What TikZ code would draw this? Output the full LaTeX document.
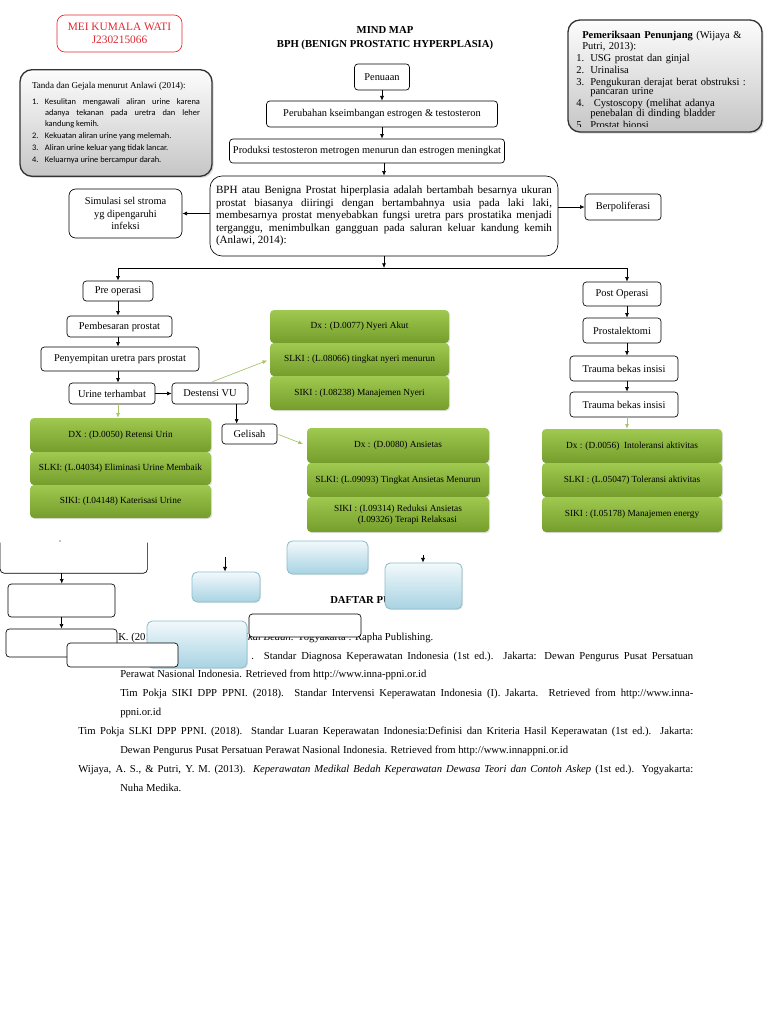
\documentclass[tikz,border=0pt]{standalone}
\usepackage{fontspec}
\setmainfont{Liberation Serif}
\setsansfont{Carlito}
\usetikzlibrary{arrows.meta,shadows}

\definecolor{merah}{RGB}{226,40,50}
\definecolor{hijauatas}{RGB}{160,201,80}
\definecolor{hijaubawah}{RGB}{116,157,44}
\definecolor{hijaupanah}{RGB}{163,196,105}
\definecolor{biruatas}{RGB}{242,249,252}
\definecolor{birubawah}{RGB}{168,211,226}
\definecolor{birugaris}{RGB}{140,188,204}

\tikzstyle{kotak} = [draw, rounded corners=2.5pt, fill=white, line width=0.5pt, inner sep=1pt, align=center]
\tikzstyle{abu} = [draw=black!80, line width=1pt, rounded corners=9pt, top color=gray!2, bottom color=gray!45, drop shadow={shadow xshift=1.2pt, shadow yshift=-1.2pt, opacity=0.3}]
\tikzstyle{hijau} = [rounded corners=3pt, top color=hijauatas, bottom color=hijaubawah, drop shadow={shadow xshift=0.8pt, shadow yshift=-0.8pt, opacity=0.25}, inner sep=1pt, align=center, font=\fontsize{7}{8}\selectfont]
\tikzstyle{biru} = [draw=birugaris, line width=0.6pt, rounded corners=4pt, top color=biruatas, bottom color=birubawah, drop shadow={shadow xshift=0.8pt, shadow yshift=-0.8pt, opacity=0.2}]
\tikzstyle{arrow} = [-{Latex[length=3.5pt,width=3pt]}, line width=0.5pt]
\tikzstyle{arrowg} = [arrow, color=hijaupanah]
\tikzstyle{pustaka} = [anchor=base west, inner sep=0pt, font=\fontsize{8}{9.4}\selectfont]

\begin{document}
\begin{tikzpicture}[x=0.75pt, y=-0.75pt, every node/.style={font=\fontsize{7.8}{9.4}\selectfont}]
  \useasboundingbox (0,0) rectangle (768,1024);

  \node[kotak, draw=merah, text=merah, rounded corners=6pt, minimum width=93.75pt, minimum height=27.75pt, font=\fontsize{8.5}{9.75}\selectfont] (nama) at (119.5,33.5) {MEI KUMALA WATI\\J230215066};
  \node[align=center, font=\bfseries\fontsize{8}{10.5}\selectfont] (judul) at (385,38) {MIND MAP\\BPH (BENIGN PROSTATIC HYPERPLASIA)};

  \node[abu, minimum width=144pt, minimum height=79.5pt, text width=126pt, inner sep=9pt, align=justify] (gejala) at (116,123) {%
    {\fontsize{6.8}{8}\selectfont Tanda dan Gejala menurut Anlawi (2014):\par}
    \vspace{4pt}
    \sffamily\fontsize{6.3}{8.2}\selectfont
    \hangindent=9.75pt\hangafter=1\noindent\makebox[9.75pt][l]{1.}Kesulitan mengawali aliran urine karena adanya tekanan pada uretra dan leher kandung kemih.\par
    \vspace{1pt}
    \hangindent=9.75pt\hangafter=1\noindent\makebox[9.75pt][l]{2.}Kekuatan aliran urine yang melemah.\par
    \vspace{1pt}
    \hangindent=9.75pt\hangafter=1\noindent\makebox[9.75pt][l]{3.}Aliran urine keluar yang tidak lancar.\par
    \vspace{1pt}
    \hangindent=9.75pt\hangafter=1\noindent\makebox[9.75pt][l]{4.}Keluarnya urine bercampur darah.\par};

  \node[abu, minimum width=145.5pt, minimum height=84pt] (penunjang) at (665,76) {};
  \begin{scope}
    \clip (568,20) rectangle (762,126);
    \node[anchor=north west, inner sep=0pt, text width=134pt, align=left, font=\fontsize{7.9}{7}\selectfont] (penunjangisi) at (576,31) {%
      \lineskiplimit=-5pt\relax
      \hspace*{4.5pt}\textbf{Pemeriksaan Penunjang} (Wijaya \&\\[1.2pt]
      \hspace*{4.5pt}Putri, 2013):\par
      \vspace{2pt}
      \hangindent=10.5pt\hangafter=1\noindent\makebox[10.5pt][l]{1.}USG prostat dan ginjal\par
      \vspace{2pt}
      \hangindent=10.5pt\hangafter=1\noindent\makebox[10.5pt][l]{2.}Urinalisa\par
      \vspace{2pt}
      \hangindent=10.5pt\hangafter=1\noindent\makebox[10.5pt][l]{3.}Pengukuran derajat berat obstruksi :\newline pancaran urine\par
      \vspace{2pt}
      \hangindent=10.5pt\hangafter=1\noindent\makebox[10.5pt][l]{4.}\ Cystoscopy (melihat adanya\newline penebalan di dinding bladder\par
      \vspace{2.6pt}
      \hangindent=10.5pt\hangafter=1\noindent\makebox[10.5pt][l]{5.}Prostat biopsi\par};
  \end{scope}

  \node[kotak, minimum width=41.25pt, minimum height=19.5pt] (penuaan) at (382,77) {Penuaan};
  \node[kotak, minimum width=173.25pt, minimum height=19.5pt] (perubahan) at (382,114) {Perubahan kseimbangan estrogen \& testosteron};
  \node[kotak, minimum width=206.25pt, minimum height=18pt] (produksi) at (367,151) {Produksi testosteron metrogen menurun dan estrogen meningkat};
  \node[kotak, rounded corners=9pt, text width=252pt, inner sep=4.5pt, minimum height=60pt, align=justify, font=\fontsize{8.3}{9.4}\selectfont] (bph) at (384,216) {BPH atau Benigna Prostat hiperplasia adalah bertambah besarnya ukuran\linebreak prostat biasanya diiringi dengan bertambahnya usia pada laki laki,\linebreak membesarnya prostat menyebabkan fungsi uretra pars prostatika menjadi\linebreak terganggu, menimbulkan gangguan pada saluran keluar kandung kemih\linebreak (Anlawi, 2014):};
  \node[kotak, rounded corners=5pt, minimum width=84.75pt, minimum height=36.75pt] (simulasi) at (125.5,213.5) {Simulasi sel stroma\\yg dipengaruhi\\infeksi};
  \node[kotak, minimum width=57pt, minimum height=19.5pt] (berpoliferasi) at (623,207) {Berpoliferasi};

  \draw[arrow] (penuaan.south) -- (penuaan.south |- perubahan.north);
  \draw[arrow] (perubahan.south) -- (perubahan.south |- produksi.north);
  \draw[arrow] (produksi.south -| bph.north) -- (bph.north);
  \draw[arrow] (bph.west |- simulasi.east) -- (simulasi.east);
  \draw[arrow] (bph.east |- berpoliferasi.west) -- (berpoliferasi.west);

  \coordinate (jc) at (384,268);
  \coordinate (jl) at (118,268);
  \coordinate (jr) at (627,268);
  \draw[arrow] (bph.south) -- (jc);
  \draw (jl) -- (jr);

  \node[kotak, minimum width=52.5pt, minimum height=15pt] (pre) at (118,291) {Pre operasi};
  \node[kotak, minimum width=78.75pt, minimum height=15.75pt] (pembesaran) at (119.5,326.5) {Pembesaran prostat};
  \node[kotak, minimum width=118.5pt, minimum height=18pt] (penyempitan) at (120,359) {Penyempitan uretra pars prostat};
  \node[kotak, minimum width=64.5pt, minimum height=15.75pt] (urine) at (112,393.5) {Urine terhambat};
  \node[kotak, minimum width=57pt, minimum height=15.75pt] (destensi) at (210,393.5) {Destensi VU};
  \node[kotak, minimum width=41.25pt, minimum height=15pt] (gelisah) at (249.5,434) {Gelisah};

  \draw[arrow] (jl) -- (jl |- pre.north);
  \draw[arrow] (pre.south -| jl) -- (jl |- pembesaran.north);
  \draw[arrow] (pembesaran.south -| jl) -- (jl |- penyempitan.north);
  \draw[arrow] (penyempitan.south -| jl) -- (jl |- urine.north);
  \draw[arrow] (urine.east) -- (destensi.west);
  \draw[arrow] ([xshift=20pt]destensi.south) -- ([xshift=20pt]destensi.south |- gelisah.north);

  \node[hijau, minimum width=135.75pt, minimum height=25.5pt] (dxurin) at (120.5,435) {DX : (D.0050) Retensi Urin};
  \node[hijau, minimum width=135.75pt, minimum height=24.75pt] (slkiurin) at (120.5,468.5) {SLKI: (L.04034) Eliminasi Urine Membaik};
  \node[hijau, minimum width=135.75pt, minimum height=24.75pt] (sikiurin) at (120.5,501.5) {SIKI: (I.04148) Katerisasi Urine};

  \node[hijau, minimum width=134.25pt, minimum height=24.75pt] (dxnyeri) at (359.5,326.5) {Dx : (D.0077) Nyeri Akut};
  \node[hijau, minimum width=134.25pt, minimum height=24.75pt] (slkinyeri) at (359.5,359.5) {SLKI : (L.08066) tingkat nyeri menurun};
  \node[hijau, minimum width=134.25pt, minimum height=25.5pt] (sikinyeri) at (359.5,393) {SIKI : (I.08238) Manajemen Nyeri};

  \node[hijau, minimum width=136.5pt, minimum height=26.25pt] (dxansietas) at (398,445.5) {Dx : (D.0080) Ansietas};
  \node[hijau, minimum width=136.5pt, minimum height=25.5pt] (slkiansietas) at (398,480) {SLKI: (L.09093) Tingkat Ansietas Menurun};
  \node[hijau, minimum width=136.5pt, minimum height=26.25pt] (sikiansietas) at (398,514.5) {SIKI : (I.09314) Reduksi Ansietas\\\hspace*{14pt}(I.09326) Terapi Relaksasi};

  \draw[arrowg] (urine.south -| jl) -- (jl |- dxurin.north);
  \draw[arrowg, shorten <=2pt, shorten >=2pt] (destensi.north) -- (slkinyeri.west);
  \draw[arrowg, shorten <=1pt, shorten >=3pt] (gelisah.east) -- (dxansietas.west);

  \node[kotak, minimum width=58.5pt, minimum height=18pt] (post) at (622,294) {Post Operasi};
  \node[kotak, minimum width=58.5pt, minimum height=18.75pt] (prostalektomi) at (622,330.5) {Prostalektomi};
  \node[kotak, minimum width=81pt, minimum height=18.75pt] (trauma) at (624,368.5) {Trauma bekas insisi};
  \node[kotak, minimum width=81pt, minimum height=18.75pt] (traumadua) at (624,404.5) {Trauma bekas insisi};

  \node[hijau, minimum width=135pt, minimum height=25.5pt] (dxaktivitas) at (632,446) {Dx : (D.0056)\ \ Intoleransi aktivitas};
  \node[hijau, minimum width=135pt, minimum height=25.5pt] (slkiaktivitas) at (632,480) {SLKI : (L.05047) Toleransi aktivitas};
  \node[hijau, minimum width=135pt, minimum height=26.25pt] (sikiaktivitas) at (632,514.5) {SIKI : (I.05178) Manajemen energy};

  \draw[arrow] (jr) -- (jr |- post.north);
  \draw[arrow] (post.south -| jr) -- (jr |- prostalektomi.north);
  \draw[arrow] (prostalektomi.south -| jr) -- (jr |- trauma.north);
  \draw[arrow] (trauma.south -| jr) -- (jr |- traumadua.north);
  \draw[arrowg] (traumadua.south -| jr) -- (jr |- dxaktivitas.north);

  \node[pustaka] (pustakaa) at (118,640) {K. (2014). \textit{Keperawatan Medikal Bedah}. Yogyakarta : Rapha Publishing.};
  \node[pustaka] (pustakab) at (251,659) {\makebox[331.5pt][s]{. Standar Diagnosa Keperawatan Indonesia (1st ed.). Jakarta: Dewan Pengurus Pusat Persatuan}};
  \node[pustaka] (pustakac) at (120,677) {Perawat Nasional Indonesia. Retrieved from http://www.inna-ppni.or.id};
  \node[pustaka] (pustakad) at (120,696) {\makebox[429.75pt][s]{Tim Pokja SIKI DPP PPNI. (2018). Standar Intervensi Keperawatan Indonesia (I). Jakarta. Retrieved from http://www.inna-}};
  \node[pustaka] (pustakae) at (120,715) {ppni.or.id};
  \node[pustaka] (pustakaf) at (78,734) {\makebox[461.25pt][s]{Tim Pokja SLKI DPP PPNI. (2018). Standar Luaran Keperawatan Indonesia:Definisi dan Kriteria Hasil Keperawatan (1st ed.). Jakarta:}};
  \node[pustaka] (pustakag) at (120,753) {Dewan Pengurus Pusat Persatuan Perawat Nasional Indonesia. Retrieved from http://www.innappni.or.id};
  \node[pustaka] (pustakah) at (78,772) {\makebox[461.25pt][s]{Wijaya, A. S., \& Putri, Y. M. (2013). \textit{Keperawatan Medikal Bedah Keperawatan Dewasa Teori dan Contoh Askep} (1st ed.). Yogyakarta:}};
  \node[pustaka] (pustakai) at (120,791) {Nuha Medika.};
  \node[anchor=west, inner sep=0pt, font=\bfseries\fontsize{8}{9}\selectfont] (daftar) at (330,600) {DAFTAR PUSTAKA};

  \node[inner sep=0pt, minimum width=110pt, minimum height=22.5pt] (bsatu) at (73.75,558) {};
  \draw[line width=0.5pt, rounded corners=3pt] (bsatu.north west) -- (bsatu.south west) -- (bsatu.south east) -- (bsatu.north east);
  \fill (60,541) circle (0.4pt);
  \node[kotak, minimum width=80.25pt, minimum height=24.75pt] (bdua) at (61.5,600.5) {};
  \node[kotak, minimum width=83.25pt, minimum height=21pt] (btiga) at (61.5,643) {};
  \node[biru, minimum width=75pt, minimum height=35.25pt] (birusatu) at (197,644.5) {};
  \node[kotak, minimum width=83.25pt, minimum height=18pt] (bempat) at (122.5,655) {};
  \node[biru, minimum width=51pt, minimum height=22.5pt] (birudua) at (226,587) {};
  \node[biru, minimum width=60.75pt, minimum height=24.75pt] (birutiga) at (327.5,557.5) {};
  \node[biru, minimum width=57.75pt, minimum height=34.5pt] (biruempat) at (423.5,586) {};
  \node[kotak, minimum width=84pt, minimum height=17.25pt] (blima) at (305,625.5) {};

  \coordinate (ab2) at (225,557);
  \coordinate (ab4) at (423,555);
  \draw[arrow] ([xshift=-9pt]bsatu.south) -- ([xshift=-9pt]bsatu.south |- bdua.north);
  \draw[arrow] (bdua.south) -- (btiga.north);
  \draw[arrow] (ab2) -- (ab2 |- birudua.north);
  \draw[arrow] (ab4) -- (ab4 |- biruempat.north);

\end{tikzpicture}
\end{document}
